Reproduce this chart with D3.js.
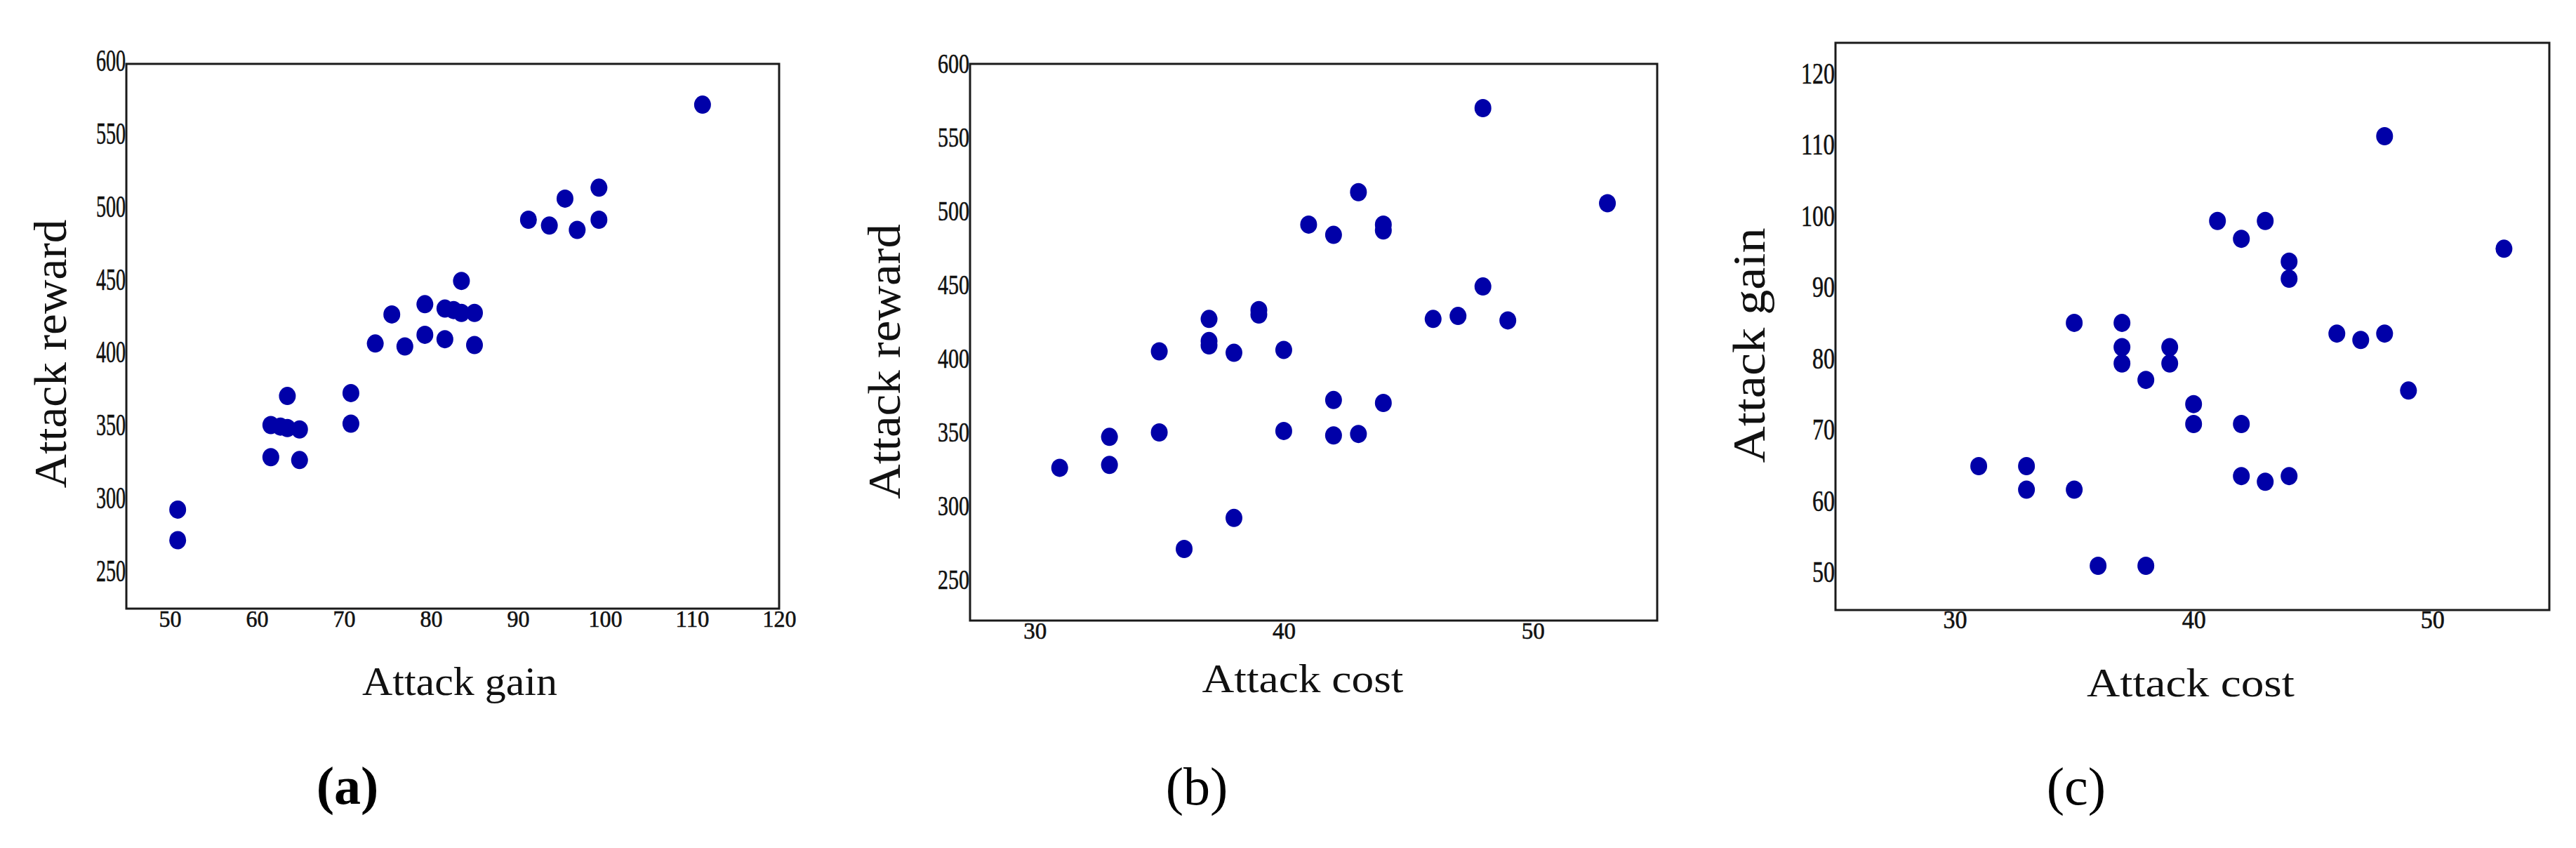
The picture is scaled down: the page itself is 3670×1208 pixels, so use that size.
<!DOCTYPE html>
<html>
<head>
<meta charset="utf-8">
<script src="https://cdn.jsdelivr.net/npm/d3@7"></script>
<style>
  body { margin: 0; background: #fff; }
  svg { display: block; }
</style>
</head>
<body>
<div id="chart"></div>
<script>
// one record per attack: cost, gain and reward
const cost   = [31, 33, 33, 35, 35, 36, 37, 37, 37, 38, 38, 39, 39, 40, 40,
                41, 42, 42, 42, 43, 43, 44, 44, 44, 46, 47, 48, 48, 49, 53];
const gain   = [64.9, 61.6, 64.9, 85, 61.6, 50.9, 85, 81.6, 79.3, 77, 50.9, 79.3, 81.6, 73.6, 70.8,
                99.3, 96.8, 70.8, 63.5, 99.3, 62.7, 91.2, 93.6, 63.5, 83.5, 82.6, 83.5, 111.2, 75.5, 95.4];
const reward = [326, 328, 347, 405, 350, 271, 427, 409, 412, 404, 292, 433, 430, 406, 351,
                491, 484, 372, 348, 513, 349, 491, 487, 370, 427, 429, 449, 570, 426, 505.5];

// tick labels
const gainTicks   = [50, 60, 70, 80, 90, 100, 110, 120];
const rewardTicks = [250, 300, 350, 400, 450, 500, 550, 600];
const costTicks   = [30, 40, 50];
const gainTicksC  = [50, 60, 70, 80, 90, 100, 110, 120];

const captions = ['(a)', '(b)', '(c)'];

const records = cost.map((c, i) => ({ cost: c, gain: gain[i], reward: reward[i] }));

const svg = d3.select('#chart')
    .append('svg')
    .attr('width', 3670)
    .attr('height', 1208);

const dotColor = '#0000a8';
const serif = '"Liberation Serif", "Times New Roman", serif';

const styleTicks = (g, size, charW) => {
    g.select('.domain').remove();
    g.selectAll('text')
        .attr('fill', '#111')
        .attr('stroke', '#111')
        .attr('stroke-width', 0.6)
        .style('font-family', serif)
        .style('font-size', size + 'px')
        .attr('textLength', d => String(d).length * charW)
        .attr('lengthAdjust', 'spacingAndGlyphs');
};

const drawPanel = (p) => {
    const x = d3.scaleLinear().domain(p.xDomain).range([p.left, p.right]);
    const y = d3.scaleLinear().domain(p.yDomain).range([p.bottom, p.top]);

    // x tick labels
    svg.append('g')
        .attr('transform', `translate(0,${p.bottom})`)
        .call(d3.axisBottom(x).tickValues(p.xTicks).tickSize(0).tickPadding(p.xPad))
        .call(g => styleTicks(g, p.xFont, p.xCharW));

    // y tick labels
    svg.append('g')
        .attr('transform', `translate(${p.left},0)`)
        .call(d3.axisLeft(y).tickValues(p.yTicks).tickSize(0).tickPadding(1))
        .call(g => styleTicks(g, p.yFont, p.yCharW));

    // points
    svg.append('g')
        .selectAll('ellipse')
        .data(records)
        .join('ellipse')
        .attr('cx', d => x(d[p.xKey]))
        .attr('cy', d => y(d[p.yKey]))
        .attr('rx', 12)
        .attr('ry', 13)
        .attr('fill', dotColor);

    // frame
    svg.append('rect')
        .attr('x', p.left)
        .attr('y', p.top)
        .attr('width', p.right - p.left)
        .attr('height', p.bottom - p.top)
        .attr('fill', 'none')
        .attr('stroke', '#1a1a1a')
        .attr('stroke-width', 3);

    // axis titles
    svg.append('text')
        .attr('x', p.xTitle[0])
        .attr('y', p.xTitle[1])
        .attr('text-anchor', 'middle')
        .attr('textLength', p.xTitle[2])
        .attr('lengthAdjust', 'spacingAndGlyphs')
        .style('font-family', serif)
        .style('font-size', '57px')
        .attr('fill', '#111')
        .text(p.xLabel);

    svg.append('text')
        .attr('transform', `translate(${p.yTitle[0]},${p.yTitle[1]}) rotate(-90)`)
        .attr('text-anchor', 'middle')
        .attr('textLength', p.yTitle[2])
        .attr('lengthAdjust', 'spacingAndGlyphs')
        .style('font-family', serif)
        .style('font-size', '66px')
        .attr('fill', '#111')
        .text(p.yLabel);

    // caption
    svg.append('text')
        .attr('x', p.caption[0])
        .attr('y', p.caption[1])
        .attr('text-anchor', 'middle')
        .style('font-family', serif)
        .style('font-size', '76px')
        .style('font-weight', p.captionBold ? 'bold' : 'normal')
        .attr('fill', '#000')
        .text(p.captionText);
};

drawPanel({
    left: 180, right: 1110, top: 91, bottom: 867,
    xDomain: [45, 120], yDomain: [224, 598],
    xKey: 'gain', yKey: 'reward',
    xTicks: gainTicks, yTicks: rewardTicks,
    xFont: 34, yFont: 44, xCharW: 16, yCharW: 14, xPad: 2,
    xLabel: 'Attack gain', yLabel: 'Attack reward',
    xTitle: [655, 990, 278], yTitle: [94, 504, 383],
    caption: [495, 1145], captionText: captions[0], captionBold: true
});

drawPanel({
    left: 1382, right: 2361, top: 91, bottom: 884,
    xDomain: [27.4, 55], yDomain: [222.4, 600],
    xKey: 'cost', yKey: 'reward',
    xTicks: costTicks, yTicks: rewardTicks,
    xFont: 33, yFont: 40, xCharW: 16.5, yCharW: 15, xPad: 3,
    xLabel: 'Attack cost', yLabel: 'Attack reward',
    xTitle: [1856, 986, 287], yTitle: [1282, 515, 392],
    caption: [1705, 1146], captionText: captions[1], captionBold: false
});

drawPanel({
    left: 2615, right: 3632, top: 61, bottom: 869,
    xDomain: [25, 54.9], yDomain: [44.7, 124.3],
    xKey: 'cost', yKey: 'gain',
    xTicks: costTicks, yTicks: gainTicksC,
    xFont: 35, yFont: 42, xCharW: 17, yCharW: 16, xPad: 1,
    xLabel: 'Attack cost', yLabel: 'Attack gain',
    xTitle: [3121, 992, 296], yTitle: [2514, 492, 335],
    caption: [2958, 1146], captionText: captions[2], captionBold: false
});
</script>
</body>
</html>
